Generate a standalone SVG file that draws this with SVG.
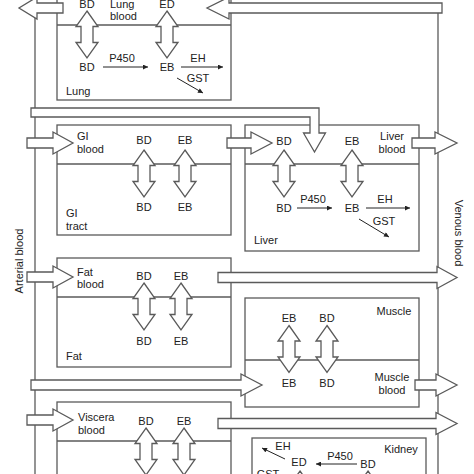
<svg xmlns="http://www.w3.org/2000/svg" width="474" height="474" viewBox="0 0 474 474">
<style>
.box{fill:none;stroke:#5a5a5a;stroke-width:1.3}
.div{stroke:#5a5a5a;stroke-width:1.3}
.flow{fill:#fff;stroke:#5a5a5a;stroke-width:1.3;stroke-linejoin:miter}
.bl{fill:none;stroke:#5a5a5a;stroke-width:1.3}
.x{fill:#fff;stroke:#5a5a5a;stroke-width:1.3}
.rx{stroke:#222;stroke-width:1;fill:none;marker-end:url(#ah)}
text{font-family:"Liberation Sans",Arial,sans-serif;font-size:11px;fill:#222}
.m{text-anchor:middle}
</style>
<defs>
<marker id="ah" viewBox="0 0 10 10" refX="10" refY="5" markerWidth="7" markerHeight="5" markerUnits="userSpaceOnUse" orient="auto"><path d="M0,0 L10,5 L0,10 z" fill="#222"/></marker>
<path id="da" class="x" d="M0,-23.5 L11,-8 L6,-8 L6,8 L11,8 L0,23.5 L-11,8 L-6,8 L-6,-8 L-11,-8 Z"/>
</defs>

<g id="lung">
<rect class="box" x="57" y="-10" width="174" height="110"/>
<line class="div" x1="57" y1="25" x2="231" y2="25"/>
<use href="#da" x="87" y="34.5"/>
<use href="#da" x="167" y="34.5"/>
<text class="m" x="87" y="8">BD</text>
<text x="110" y="8">Lung</text>
<text x="110" y="20">blood</text>
<text class="m" x="167" y="8">ED</text>
<text class="m" x="87" y="71">BD</text>
<text class="m" x="122" y="62">P450</text>
<line class="rx" x1="103" y1="67" x2="148" y2="67"/>
<text class="m" x="167" y="71">EB</text>
<text class="m" x="198" y="62">EH</text>
<line class="rx" x1="181" y1="67" x2="223" y2="67"/>
<text class="m" x="198" y="82">GST</text>
<line class="rx" x1="177" y1="78" x2="203" y2="93"/>
<text x="66" y="95">Lung</text>
</g>

<g id="gi">
<rect class="box" x="57" y="125" width="174" height="110"/>
<line class="div" x1="57" y1="164" x2="231" y2="164"/>
<use href="#da" x="144" y="173.5"/>
<use href="#da" x="185" y="173.5"/>
<text x="77" y="140">GI</text>
<text x="77" y="153">blood</text>
<text class="m" x="144" y="144">BD</text>
<text class="m" x="185" y="144">EB</text>
<text class="m" x="144" y="211">BD</text>
<text class="m" x="185" y="211">EB</text>
<text x="66" y="217">GI</text>
<text x="66" y="230">tract</text>
</g>

<g id="liver">
<rect class="box" x="245" y="125" width="174" height="126"/>
<line class="div" x1="245" y1="164" x2="419" y2="164"/>
<use href="#da" x="284" y="173.5"/>
<use href="#da" x="352" y="173.5"/>
<text class="m" x="284" y="145">BD</text>
<text class="m" x="352" y="145">EB</text>
<text class="m" x="392" y="140">Liver</text>
<text class="m" x="392" y="153">blood</text>
<text class="m" x="284" y="212">BD</text>
<text class="m" x="313" y="203">P450</text>
<line class="rx" x1="297" y1="208" x2="332" y2="208"/>
<text class="m" x="352" y="212">EB</text>
<text class="m" x="385" y="203">EH</text>
<line class="rx" x1="366" y1="208" x2="410" y2="208"/>
<text class="m" x="384" y="225">GST</text>
<line class="rx" x1="359" y1="219" x2="389" y2="237"/>
<text x="254" y="244">Liver</text>
</g>

<g id="fat">
<rect class="box" x="57" y="258" width="174" height="109"/>
<line class="div" x1="57" y1="297" x2="231" y2="297"/>
<use href="#da" x="144" y="306.5"/>
<use href="#da" x="181" y="306.5"/>
<text x="77" y="275.5">Fat</text>
<text x="77" y="287.5">blood</text>
<text class="m" x="144" y="280">BD</text>
<text class="m" x="181" y="280">EB</text>
<text class="m" x="144" y="345">BD</text>
<text class="m" x="181" y="345">EB</text>
<text x="66" y="360">Fat</text>
</g>

<g id="muscle">
<rect class="box" x="245" y="298" width="174" height="109"/>
<line class="div" x1="245" y1="360" x2="419" y2="360"/>
<use href="#da" x="289" y="349"/>
<use href="#da" x="327" y="349"/>
<text class="m" x="394" y="315">Muscle</text>
<text class="m" x="289" y="322">EB</text>
<text class="m" x="327" y="322">BD</text>
<text class="m" x="289" y="387">EB</text>
<text class="m" x="327" y="387">BD</text>
<text class="m" x="392" y="381">Muscle</text>
<text class="m" x="392" y="394">blood</text>
</g>

<g id="viscera">
<rect class="box" x="57" y="402" width="174" height="90"/>
<line class="div" x1="57" y1="441" x2="231" y2="441"/>
<use href="#da" x="146" y="451.5"/>
<use href="#da" x="184" y="451.5"/>
<text x="78" y="421">Viscera</text>
<text x="78" y="434">blood</text>
<text class="m" x="146" y="425">BD</text>
<text class="m" x="184" y="425">EB</text>
</g>

<g id="kidney">
<rect class="box" x="252" y="438" width="174" height="60"/>
<use href="#da" x="300" y="494.5"/>
<use href="#da" x="368" y="494.5"/>
<text class="m" x="283" y="450">EH</text>
<line class="rx" x1="285" y1="459" x2="262" y2="448"/>
<text class="m" x="299" y="466">ED</text>
<text class="m" x="340" y="460">P450</text>
<line class="rx" x1="357" y1="464" x2="316" y2="464"/>
<text class="m" x="368" y="468">BD</text>
<text class="m" x="401" y="453">Kidney</text>
<text class="m" x="268" y="478">GST</text>
</g>

<g id="connectors">
<line class="bl" x1="35" y1="17" x2="35" y2="480"/>
<line class="bl" x1="438" y1="13" x2="438" y2="480"/>
<polygon class="flow" points="63,3 37,3 37,-3 19,8 37,19 37,13 63,13"/>
<polygon class="flow" points="442,3 229,3 229,-3 207,8 229,19 229,13 442,13"/>
<polygon class="flow" points="31,108 319,108 319,133 325.5,133 314.5,152 303.5,133 310,133 310,117 31,117"/>
<polygon class="flow" points="27,138 53,138 53,132 73,143 53,154 53,148 27,148"/>
<polygon class="flow" points="227,138 251,138 251,132 272,143 251,154 251,148 227,148"/>
<polygon class="flow" points="412,138 435,138 435,132 457,143 435,154 435,148 412,148"/>
<polygon class="flow" points="27,272 53,272 53,266 73,277 53,288 53,282 27,282"/>
<polygon class="flow" points="218,272.5 437,272.5 437,266.5 457,277.5 437,288.5 437,282.5 218,282.5"/>
<polygon class="flow" points="31,380 241,380 241,374 262,385 241,396 241,390 31,390"/>
<polygon class="flow" points="415,380 436,380 436,374 457,385 436,396 436,390 415,390"/>
<polygon class="flow" points="27,415 53,415 53,409 73,420 53,431 53,425 27,425"/>
<polygon class="flow" points="218,418.5 436,418.5 436,412.5 457,423.5 436,434.5 436,428.5 218,428.5"/>
<text class="m" transform="translate(23,261) rotate(-90)">Arterial blood</text>
<text class="m" transform="translate(455,233) rotate(90)">Venous blood</text>
</g>
</svg>
